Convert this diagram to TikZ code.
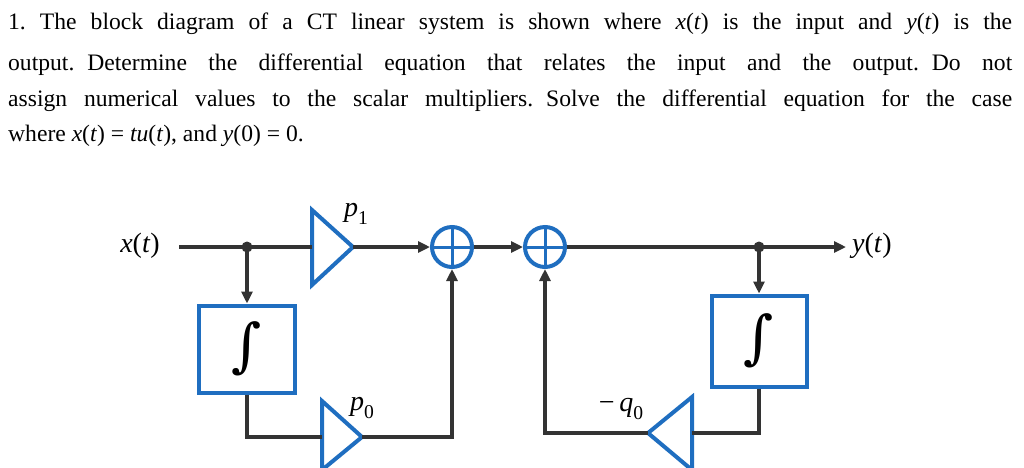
\documentclass[tikz,border=0pt]{standalone}
\usepackage{fontspec}
\setmainfont{Liberation Serif}
\newfontfamily\symf{DejaVu Serif}
\usetikzlibrary{arrows.meta}
\definecolor{bl}{HTML}{1F6EC0}
\definecolor{ln}{HTML}{333333}
\newcommand{\iv}[1]{\textit{#1}}
\newcommand{\sbs}[2]{\textit{#1}\raisebox{-0.3em}{\fontsize{0.7em}{0.7em}\selectfont #2}}
\newcommand{\gap}{\hspace{0.55em}}
\frenchspacing
\begin{document}
\begin{tikzpicture}[x=1pt,y=-1pt,
  wire/.style={draw=ln,line width=3.4pt},
  arr/.style={wire,-{Triangle[length=12pt,width=11pt]}},
  blk/.style={draw=bl,line width=4pt},
  tline/.style={anchor=base west,inner sep=0pt,font=\fontsize{23.6}{26}\selectfont},
  lab/.style={inner sep=0pt,font=\fontsize{28}{30}\selectfont}]
\useasboundingbox (0,0) rectangle (1024,467);
\node[tline] (l1) at (8,29) {\makebox[1004pt][s]{1. The block diagram of a CT linear system is shown where \iv{x}(\iv{t}) is the input and \iv{y}(\iv{t}) is the}};
\node[tline] (l2) at (8,70) {\makebox[1004pt][s]{output.\gap Determine the differential equation that relates the input and the output.\gap Do not}};
\node[tline] (l3) at (8,106) {\makebox[1004pt][s]{assign numerical values to the scalar multipliers.\gap Solve the differential equation for the case}};
\node[tline] (l4) at (8,141) {where \iv{x}(\iv{t}) = \iv{tu}(\iv{t}), and \iv{y}(0) = 0.};
\node[lab] (x) at (140,246) {\iv{x}(\iv{t})};
\node[lab,anchor=west] (y) at (852,246) {\iv{y}(\iv{t})};
\coordinate (xs) at (179,247);
\coordinate (j1) at (247,247);
\coordinate (j2) at (759,247);
\coordinate (ye) at (846,247);
\node[blk,minimum width=96pt,minimum height=87pt,inner sep=0pt] (i1) at (247,349) {\fontsize{58}{58}\selectfont\symf\itshape ∫};
\node[blk,minimum width=95pt,minimum height=91pt,inner sep=0pt] (i2) at (759,341) {\fontsize{58}{58}\selectfont\symf\itshape ∫};
\node[blk,circle,minimum size=40pt,inner sep=0pt] (s1) at (452,247) {};
\node[blk,circle,minimum size=40pt,inner sep=0pt] (s2) at (545,247) {};
\draw[bl,line width=3pt] (s1.west)--(s1.east) (s1.north)--(s1.south);
\draw[bl,line width=3pt] (s2.west)--(s2.east) (s2.north)--(s2.south);
\coordinate (p1l) at (312,247); \coordinate (p1t) at (353,247);
\coordinate (p0l) at (322,437); \coordinate (p0t) at (362,437);
\coordinate (q0t) at (648,433); \coordinate (q0r) at (692,433);
\draw[blk,line join=miter] (312,210)--(353,247)--(312,285)--cycle;
\draw[blk,line join=miter] (322,401)--(362,437)--(322,470)--cycle;
\draw[blk,line join=miter] (692,397)--(648,433)--(692,470)--cycle;
\node[lab] (p1) at (356,214) {\sbs{p}{1}};
\node[lab] (p0) at (362,408) {\sbs{p}{0}};
\node[lab] (q0) at (621,409) {−\,\sbs{q}{0}};
\draw[wire] (xs)--(p1l);
\draw[arr] (p1t)--(s1.west);
\draw[arr] (s1.east)--(s2.west);
\draw[arr] (s2.east)--(ye);
\fill[ln] (j1) circle (5.5pt) (j2) circle (5.5pt);
\draw[arr] (j1)--(i1.north);
\draw[arr] (j2)--(i2.north);
\draw[wire] (i1.south)--(247,437)--(p0l);
\draw[arr] (p0t)--(452,437)--(s1.south);
\draw[wire] (i2.south)--(759,433)--(q0r);
\draw[arr] (q0t)--(545,433)--(s2.south);
\end{tikzpicture}
\end{document}
